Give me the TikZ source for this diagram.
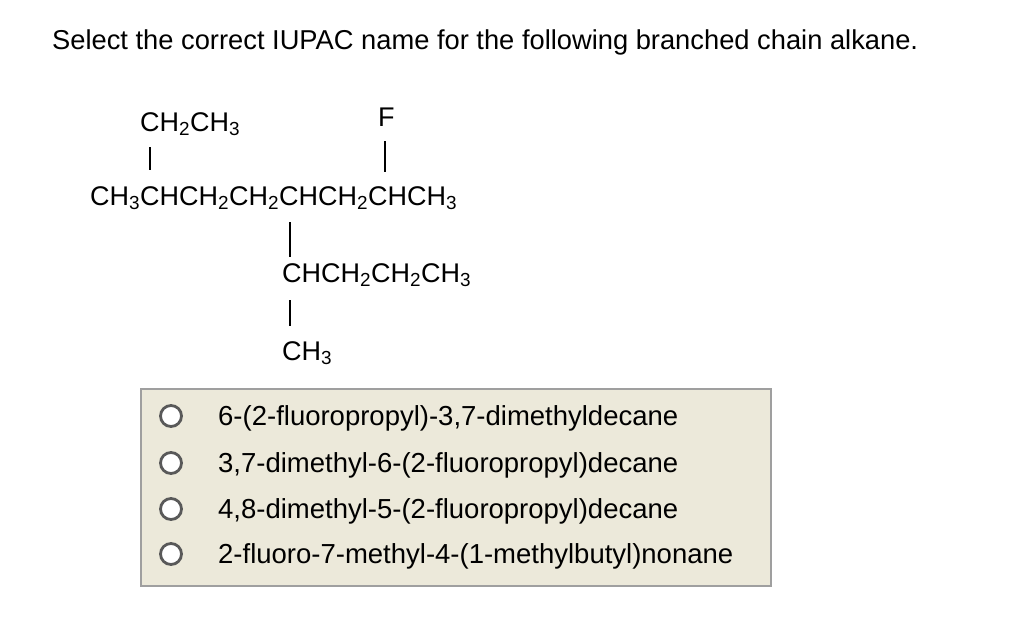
\documentclass[tikz,border=0pt]{standalone}
\usepackage{fontspec}
\setmainfont{Liberation Sans}
\begin{document}
\begin{tikzpicture}[x=1pt,y=-1pt,
  bond/.style={line width=2.8pt},
  chem/.style={font=\fontsize{27}{32}\selectfont,inner sep=0pt,anchor=base west},
  opt/.style={font=\fontsize{27.5}{32}\selectfont,inner sep=0pt,anchor=base west},
  radio/.style={circle,minimum size=21pt,inner sep=0pt,draw=gray!70!black,line width=2.8pt,fill=white}]
\useasboundingbox (0,0) rectangle (1024,641);
\node[font=\fontsize{27.3}{32}\selectfont,inner sep=0pt,anchor=base west] (title) at (52,49) {Select the correct IUPAC name for the following branched chain alkane.};
\newcommand{\st}[1]{\textsubscript{#1}}
\node[chem] (top1) at (140,131) {CH\st2CH\st3};
\node[chem] (topF) at (378,126) {F};
\node[chem] (main) at (90,205) {CH\st3CHCH\st2CH\st2CHCH\st2CHCH\st3};
\node[chem] (side) at (282,282) {CHCH\st2CH\st2CH\st3};
\node[chem] (me) at (282,360) {CH\st3};
\coordinate (b1a) at (150,147); \coordinate (b1b) at (150,170);
\coordinate (b2a) at (385,141); \coordinate (b2b) at (385,172);
\coordinate (b3a) at (290,222); \coordinate (b3b) at (290,257);
\coordinate (b4a) at (290,300); \coordinate (b4b) at (290,326);
\draw[bond] (b1a)--(b1b); \draw[bond] (b2a)--(b2b);
\draw[bond] (b3a)--(b3b); \draw[bond] (b4a)--(b4b);
\node[draw=gray!75,line width=2.2pt,fill={rgb,255:red,236;green,233;blue,218},minimum width=630pt,minimum height=197pt,anchor=north west] (box) at (140,388) {};
\foreach \y/\t [count=\i] in {416/{6-(2-fluoropropyl)-3,7-dimethyldecane},463/{3,7-dimethyl-6-(2-fluoropropyl)decane},509/{4,8-dimethyl-5-(2-fluoropropyl)decane},554/{2-fluoro-7-methyl-4-(1-methylbutyl)nonane}}{
  \node[radio] (r\i) at (171,\y) {};
  \node[opt] (o\i) at (218,\y+9) {\t};
}
\end{tikzpicture}
\end{document}
